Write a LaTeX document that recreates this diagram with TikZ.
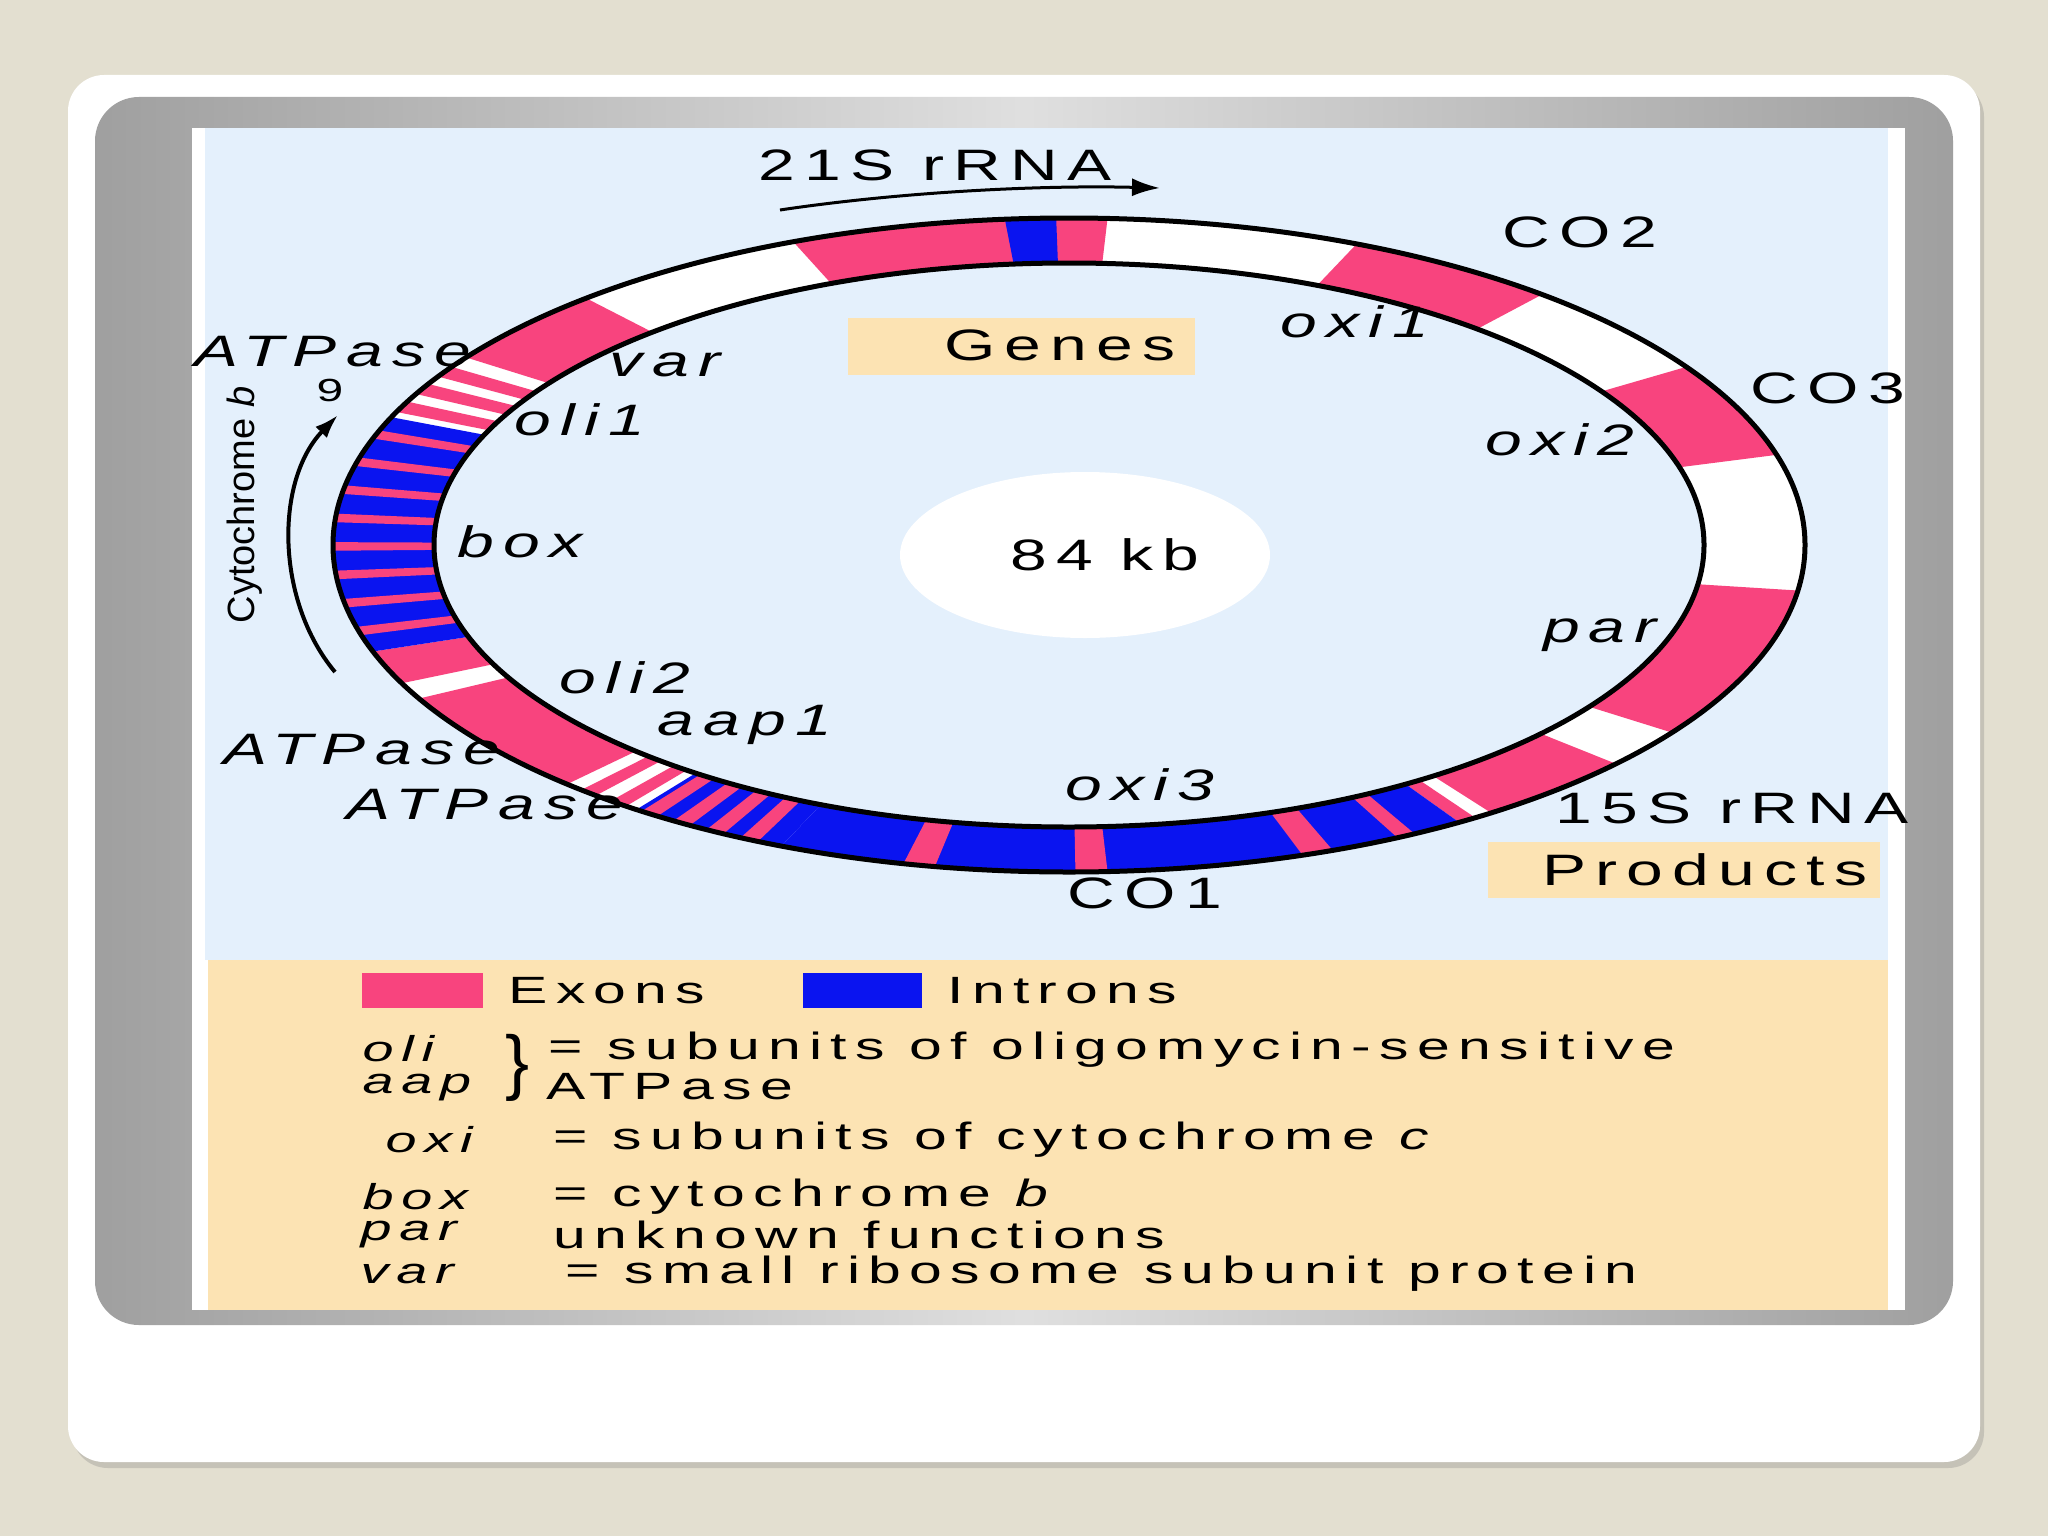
\documentclass[tikz,border=0pt]{standalone}
\usepackage{fontspec}
\setmainfont{Liberation Sans}[LetterSpace=14]
\usetikzlibrary{arrows.meta,shadows}
\definecolor{bgbeige}{HTML}{E3DFD0}
\definecolor{skyb}{HTML}{E4F0FC}
\definecolor{tan}{HTML}{FCE3B3}
\definecolor{pk}{HTML}{F8447E}
\definecolor{bl}{HTML}{0A14F0}
\newcommand\ringseg[3]{\fill[#1] ({1069+736*cos(#2)},{545+327*sin(#2)}) arc[start angle=#2,end angle=#3,x radius=736,y radius=327] -- ({1069+635*cos(#3)},{545+282*sin(#3)}) arc[start angle=#3,end angle=#2,x radius=635,y radius=282] -- cycle;}
\tikzset{lab/.style={font=\fontsize{22}{22}\selectfont,xscale=1.5,inner sep=0},
 ilab/.style={lab,font=\fontsize{22}{22}\selectfont\itshape},
 leg/.style={font=\fontsize{19}{19}\selectfont,xscale=1.55,inner sep=0,anchor=west},
 ileg/.style={leg,font=\fontsize{18}{18}\selectfont\itshape}}
\begin{document}
\begin{tikzpicture}[x=0.5pt,y=-0.5pt]
\useasboundingbox (0,0) rectangle (2048,1536);
\fill[bgbeige] (0,0) rectangle (2048,1536);
\fill[white,rounded corners=18,drop shadow={shadow xshift=2pt,shadow yshift=-3pt,opacity=.3}] (68,75) rectangle (1980,1462);
\shade[left color=gray!75,right color=gray!75,middle color=gray!25,rounded corners=22] (95,97) rectangle (1953,1325);
\fill[white] (192,128) rectangle (1905,1310);
\fill[skyb] (205,128) rectangle (1888,960);
\fill[tan] (208,960) rectangle (1888,1310);
% ring
\fill[white,even odd rule] (1069,545) ellipse[x radius=736,y radius=327] (1069,545) ellipse[x radius=635,y radius=282];
\ringseg{pk}{-112}{-87}
\ringseg{bl}{-95}{-91}
\ringseg{pk}{-67}{-50}
\ringseg{pk}{-33}{-16}
\ringseg{pk}{8}{35}
\ringseg{pk}{42}{55}
\ringseg{pk}{56.5}{58}
\ringseg{bl}{58}{113}
\foreach \a in {69,87,100.5}{\ringseg{pk}{\a}{\a+2.5}}
\foreach \a in {62}{\ringseg{pk}{\a}{\a+1.5}}
\ringseg{bl}{113}{126}
\foreach \a in {115,118,121,124}{\ringseg{pk}{\a}{\a+1.5}}
\foreach \a in {127,130}{\ringseg{pk}{\a}{\a+1.5}}
\ringseg{pk}{133}{152}
\ringseg{pk}{155}{161}
\ringseg{bl}{161}{203}
\foreach \a in {164,169,174,179,184,189,194,199}{\ringseg{pk}{\a}{\a+1.5}}
\foreach \a in {204,207.5,211}{\ringseg{pk}{\a}{\a+2}}
\ringseg{pk}{215}{229}
\draw[line width=2.5pt] (1069,545) ellipse[x radius=736,y radius=327];
\draw[line width=2.5pt] (1069,545) ellipse[x radius=635,y radius=282];
% center
\fill[white] (1085,555) ellipse[x radius=185,y radius=83];
\node[lab] (kb) at (1105,555) {84 kb};
\fill[tan] (848,318) rectangle (1195,375);
\node[lab] (genes) at (1060,345) {Genes};
\fill[tan] (1488,842) rectangle (1880,898);
\node[lab] (prod) at (1705,870) {Products};
% labels
\node[lab] (r21) at (935,165) {21S rRNA};
\coordinate (a1) at (780,210); \coordinate (a2) at (1160,188);
\draw[line width=1.5pt,-{Latex[length=14pt,width=9pt]}] (a1) .. controls (900,192) and (1040,185) .. (a2);
\node[lab] (co2) at (1580,232) {CO2};
\node[lab] (co3) at (1828,388) {CO3};
\node[lab] (r15) at (1732,808) {15S rRNA};
\node[lab] (co1) at (1145,893) {CO1};
\node[ilab] (at1) at (333,352) {ATPase};
\node[lab,font=\fontsize{16}{16}\selectfont] (n9) at (330,390) {9};
\node[ilab] (at2) at (362,750) {ATPase};
\node[ilab] (at3) at (485,805) {ATPase};
\node[ilab] (var) at (665,365) {var};
\node[ilab] (oli1) at (580,420) {oli1};
\node[ilab] (box) at (520,542) {box};
\node[ilab] (oli2) at (625,678) {oli2};
\node[ilab] (aap1) at (745,725) {aap1};
\node[ilab] (oxi3) at (1140,785) {oxi3};
\node[ilab] (oxi1) at (1355,322) {oxi1};
\node[ilab] (oxi2) at (1560,440) {oxi2};
\node[ilab] (par) at (1600,635) {par};
\node[font=\fontsize{19}{19}\selectfont\addfontfeature{LetterSpace=0},rotate=90,inner sep=0] (cyt) at (245,505) {Cytochrome \textit{b}};
\coordinate (c1) at (335,672); \coordinate (c2) at (338,415);
\draw[line width=2pt,-{Latex[length=12pt,width=8pt]}] (c1) .. controls (275,600) and (275,480) .. (c2);
% legend
\fill[pk] (362,973) rectangle (483,1008);
\node[leg] (ex) at (508,991) {Exons};
\fill[bl] (803,973) rectangle (922,1008);
\node[leg] (in) at (947,991) {Introns};
\node[ileg] (l1) at (362,1049) {oli};
\node[ileg] (l2) at (362,1088) {aap};
\node[font=\fontsize{36}{36}\selectfont,inner sep=0] (br) at (518,1068) {\}};
\node[leg] (t1) at (548,1050) {= subunits of oligomycin-sensitive};
\node[leg] (t2) at (546,1087) {ATPase};
\node[ileg] (l3) at (385,1140) {oxi};
\node[leg] (t3) at (553,1140) {= subunits of cytochrome \textit{c}};
\node[ileg] (l4) at (362,1197) {box};
\node[leg] (t4) at (553,1197) {= cytochrome \textit{b}};
\node[ileg] (l5) at (360,1235) {par};
\node[leg] (t5) at (553,1235) {unknown functions};
\node[ileg] (l6) at (360,1274) {var};
\node[leg] (t6) at (565,1274) {= small ribosome subunit protein};
\end{tikzpicture}
\end{document}
